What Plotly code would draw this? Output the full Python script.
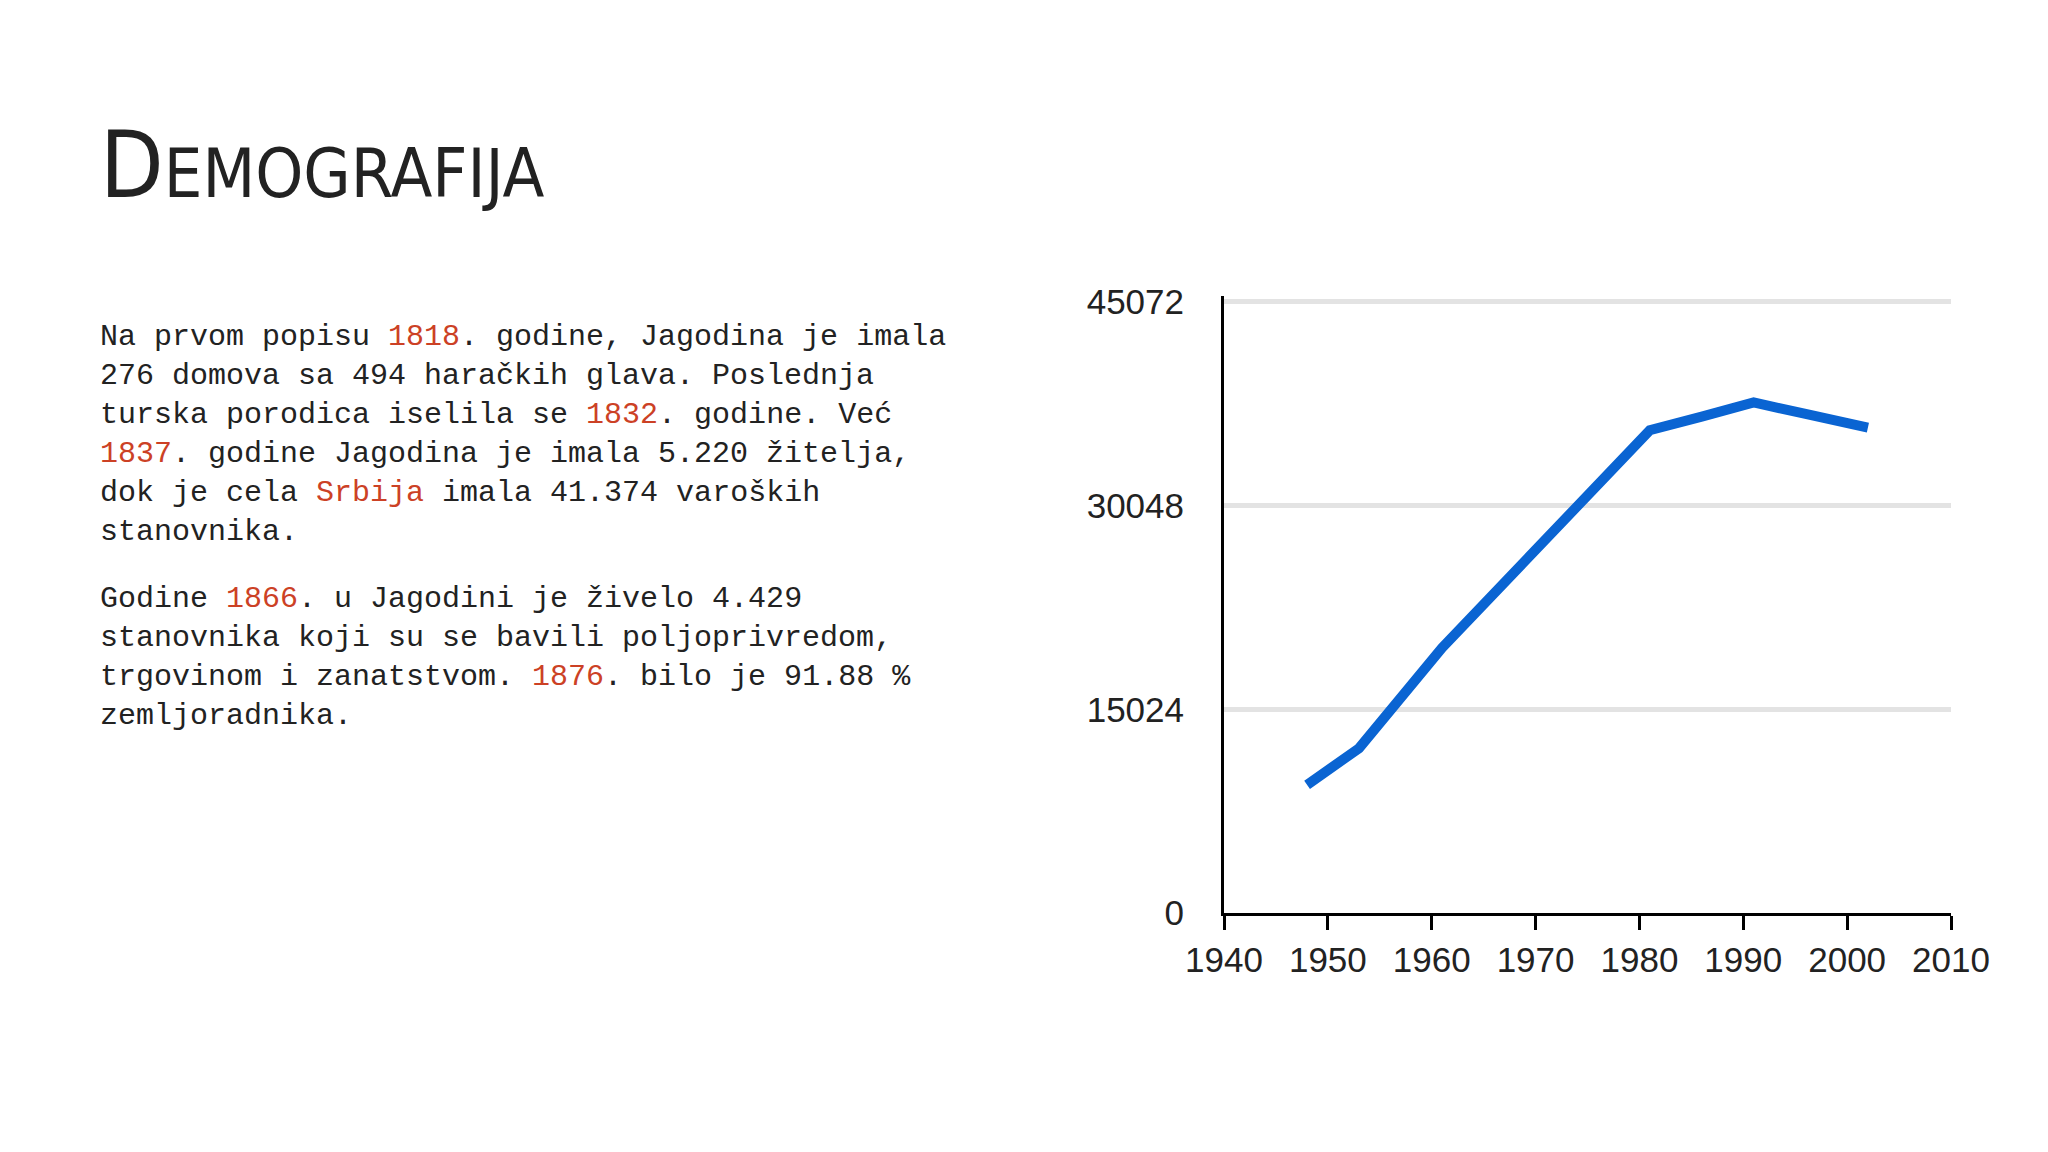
import plotly.graph_objects as go

# population of Jagodina
years = [1948, 1953, 1961, 1971, 1981, 1986, 1991, 1996, 2002]
population = [9450, 12150, 19550, 27700, 35600, 36600, 37650, 36800, 35800]

y_ticks = [0, 15024, 30048, 45072]
y_labels = ["0", "15024", "30048", "45072"]
x_ticks = [1940, 1950, 1960, 1970, 1980, 1990, 2000, 2010]

W, H = 2048, 1152
RED = "#cc4125"

def red(s):
    return f"<span style='color:{RED}'>{s}</span>"

para1 = "<br>".join([
    f"Na prvom popisu {red('1818')}. godine, Jagodina je imala",
    "276 domova sa 494 haračkih glava. Poslednja",
    f"turska porodica iselila se {red('1832')}. godine. Već",
    f"{red('1837')}. godine Jagodina je imala 5.220 žitelja,",
    f"dok je cela {red('Srbija')} imala 41.374 varoških",
    "stanovnika.",
])
para2 = "<br>".join([
    f"Godine {red('1866')}. u Jagodini je živelo 4.429",
    "stanovnika koji su se bavili poljoprivredom,",
    f"trgovinom i zanatstvom. {red('1876')}. bilo je 91.88 %",
    "zemljoradnika.",
])

fig = go.Figure()
fig.add_trace(go.Scatter(
    x=years, y=population, mode="lines",
    line=dict(color="#0a64d2", width=10),
    showlegend=False, hoverinfo="x+y",
))

fig.update_layout(
    width=W, height=H,
    margin=dict(l=0, r=0, t=0, b=0, autoexpand=False),
    paper_bgcolor="white", plot_bgcolor="white",
    xaxis=dict(
        domain=[1216 / W, 1943 / W], range=[1940, 2010],
        tickvals=x_ticks, ticks="outside", ticklen=14, tickwidth=3,
        tickcolor="black", showline=True, linecolor="black", linewidth=3,
        showgrid=False, zeroline=False, automargin=False,
        tickfont=dict(family="Liberation Sans", size=35, color="#222"),
    ),
    yaxis=dict(
        domain=[1 - 905 / H, 1 - 288 / H], range=[0, 45500],
        tickvals=y_ticks, ticktext=y_labels,
        showline=True, linecolor="black", linewidth=3,
        showgrid=True, gridcolor="#e3e3e3", gridwidth=5, zeroline=False,
        ticks="", ticklabelstandoff=30, automargin=False,
        tickfont=dict(family="Liberation Sans", size=35, color="#222"),
    ),
    annotations=[
        dict(
            text="<span style='font-size:92px'>D</span>EMOGRAFIJA",
            x=90 / W, y=1 - 157 / H, xref="paper", yref="paper",
            xanchor="left", yanchor="middle", showarrow=False,
            font=dict(family="DejaVu Sans Condensed, DejaVu Sans", size=68,
                      color="#222"),
        ),
        dict(
            text=para1, x=90 / W, y=1 - 310 / H, xref="paper", yref="paper",
            xanchor="left", yanchor="top", align="left", showarrow=False,
            font=dict(family="Liberation Mono", size=30, color="#222"),
        ),
        dict(
            text=para2, x=90 / W, y=1 - 572 / H, xref="paper", yref="paper",
            xanchor="left", yanchor="top", align="left", showarrow=False,
            font=dict(family="Liberation Mono", size=30, color="#222"),
        ),
    ],
)

fig.write_html("out.html")
